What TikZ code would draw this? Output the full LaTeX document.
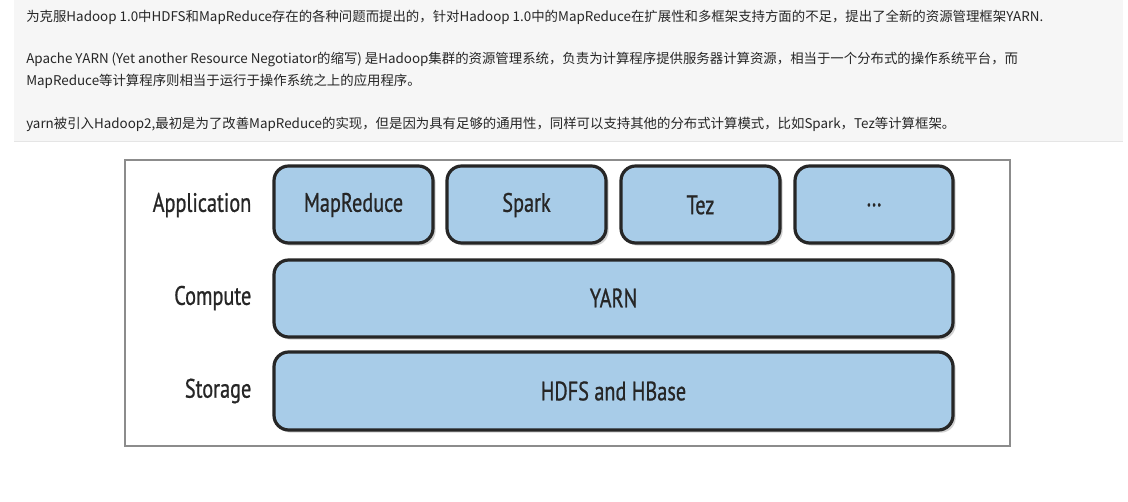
\documentclass[tikz,border=0pt]{standalone}
\usepackage{fontspec}
\setmainfont{Noto Sans CJK SC}
\newfontfamily\diag[FakeStretch=0.76,FakeBold=0.8]{PT Sans}
\usetikzlibrary{shadows}
\definecolor{boxblue}{HTML}{A8CCE8}
\definecolor{panel}{HTML}{F6F6F6}
\tikzset{
 blk/.style={draw=black!85, line width=2.4pt, rounded corners=11pt, fill=boxblue,
   drop shadow={shadow xshift=2pt, shadow yshift=-2pt, opacity=0.35}},
 lbl/.style={font=\diag\fontsize{20}{20}\selectfont, text=black!85},
 para/.style={anchor=west, font=\fontsize{10.05}{12}\selectfont, text=black!85, inner sep=0pt}
}
\begin{document}
\begin{tikzpicture}[x=0.75pt,y=-0.75pt]
\useasboundingbox (0,0) rectangle (1128,502);
\fill[white] (0,0) rectangle (1128,502);
\fill[panel] (14,-5) rectangle (1123,141);
\draw[black!10] (14,141) -- (1123,141);
\node[para] (t1) at (26,17) {为克服Hadoop 1.0中HDFS和MapReduce存在的各种问题而提出的，针对Hadoop 1.0中的MapReduce在扩展性和多框架支持方面的不足，提出了全新的资源管理框架YARN.};
\node[para] (t2) at (26,60) {Apache YARN (Yet another Resource Negotiator的缩写) 是Hadoop集群的资源管理系统，负责为计算程序提供服务器计算资源，相当于一个分布式的操作系统平台，而};
\node[para] (t3) at (26,81) {MapReduce等计算程序则相当于运行于操作系统之上的应用程序。};
\node[para] (t4) at (26,124) {yarn被引入Hadoop2,最初是为了改善MapReduce的实现，但是因为具有足够的通用性，同样可以支持其他的分布式计算模式，比如Spark，Tez等计算框架。};
\draw[black!45, line width=0.8pt] (125,160) rectangle (1010,446);
\draw[blk] (274,166) rectangle (433,243);
\draw[blk] (447,166) rectangle (606,243);
\draw[blk] (621,166) rectangle (780,243);
\draw[blk] (795,166) rectangle (953,243);
\draw[blk] (274,260) rectangle (953,337);
\draw[blk] (274,352) rectangle (953,430);
\node[lbl] (mr) at (353.5,205) {MapReduce};
\node[lbl] (sp) at (526.5,205) {Spark};
\node[lbl] (tz) at (700.5,205) {Tez};
\node[lbl] (dt) at (874,205) {\dots};
\node[lbl] (yarn) at (613.5,298) {YARN};
\node[lbl] (hdfs) at (613.5,391) {HDFS and HBase};
\node[lbl,anchor=east] (la) at (256,205) {Application};
\node[lbl,anchor=east] (lc) at (256,298) {Compute};
\node[lbl,anchor=east] (ls) at (256,391) {Storage};
\end{tikzpicture}
\end{document}
